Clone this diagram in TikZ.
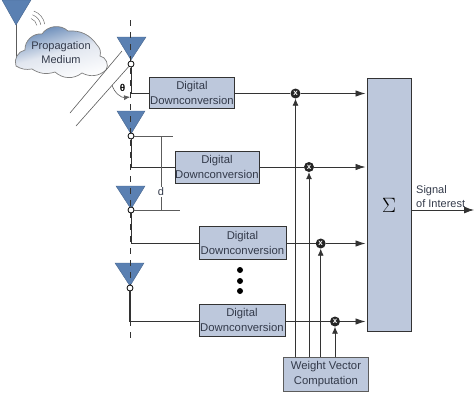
\documentclass[tikz,border=0pt]{standalone}
\usepackage{fontspec}
\setmainfont{Liberation Sans}
\usetikzlibrary{arrows.meta,calc}
\definecolor{boxfill}{HTML}{BDC8DC}
\definecolor{antblue}{HTML}{5A80B2}
\definecolor{txt}{HTML}{333A4A}
\definecolor{ln}{HTML}{333333}
\tikzset{
  ddcbox/.style={draw=ln,line width=0.9pt,fill=boxfill,text=txt,align=center,inner sep=0pt,font=\fontsize{11.3}{15}\selectfont,anchor=north west},
  mult/.style={circle,fill=black!85,text=white,inner sep=0pt,minimum size=10pt,font=\bfseries\fontsize{8}{8}\selectfont},
  port/.style={circle,draw=black,fill=white,line width=0.8pt,inner sep=0pt,minimum size=6pt},
  ant/.style={fill=antblue,draw=antblue!80!black,line width=0.4pt},
  wire/.style={draw=ln,line width=0.8pt},
  arr/.style={wire,-{Latex[length=10pt,width=6.5pt]},shorten >=1pt},
  arrup/.style={wire,-{Latex[length=7pt,width=6pt]}},
  thin wire/.style={draw=ln!80,line width=0.6pt},
  lab/.style={text=txt,font=\fontsize{11.2}{15}\selectfont,align=left}
}
\begin{document}
\begin{tikzpicture}[x=1pt,y=-1pt]
\useasboundingbox (0,0) rectangle (474,407);
% source antenna
\draw[thin wire] (16,24) -- (16,62);
\filldraw[ant] (2,0) -- (31,0) -- (16,25) -- cycle;
\foreach \r in {9,13,17}{\draw[draw=ln!70,line width=0.5pt] ($(28,27)+(-10:\r)$) arc[start angle=-10,end angle=-70,radius=\r];}
% cloud
\path[draw=gray,line width=0.7pt,left color=antblue,right color=white,middle color=boxfill!45!white,shading angle=15]
 (16,66) to[bend left=50] (25,50) to[bend left=50] (42,34) to[bend left=50] (68,31)
 to[bend left=30] (97,45) to[bend left=30] (100,56) to[bend left=60] (106,70)
 to[bend left=35] (82,73) to[bend left=40] (55,72) to[bend left=25] (32,69) to[bend left=20] (16,66) -- cycle;
\node[lab,align=center,text=txt,font=\fontsize{11}{14}\selectfont] (prop) at (61,53) {Propagation\\Medium};
% antennas
\filldraw[ant] (117,37) -- (146,37) -- (131,60) -- cycle;
\filldraw[ant] (117,111) -- (145,111) -- (131,134) -- cycle;
\filldraw[ant] (116,186) -- (145,186) -- (131,209) -- cycle;
\filldraw[ant] (115,263) -- (144,263) -- (130,286) -- cycle;
% dashed axis
\draw[draw=ln,line width=0.8pt,dash pattern=on 6pt off 6pt] (130.5,20) -- (130.5,342);
% ports
\node[port] (p1) at (131,64) {};
\node[port] (p2) at (131,136) {};
\node[port] (p3) at (131,210) {};
\node[port] (p4) at (130,288) {};
% boxes
\node[ddcbox,minimum width=85pt,minimum height=31pt] (b1) at (149,77) {Digital\\Downconversion};
\node[ddcbox,minimum width=84pt,minimum height=32pt] (b2) at (174.5,151) {Digital\\Downconversion};
\node[ddcbox,minimum width=87pt,minimum height=33pt] (b3) at (198.5,226) {Digital\\Downconversion};
\node[ddcbox,minimum width=86pt,minimum height=32pt] (b4) at (198.5,304) {Digital\\Downconversion};
\node[draw=ln,line width=1pt,fill=boxfill,minimum width=44pt,minimum height=253pt,inner sep=0pt,anchor=north west,font=\fontsize{20}{20}\selectfont] (sum) at (366.5,78) {\raisebox{-3pt}{$\Sigma$}};
\node[ddcbox,draw=ln!80,minimum width=85pt,minimum height=34pt] (w) at (283,357) {Weight Vector\\Computation};
% multipliers
\node[mult] (m1) at (295.5,93.5) {x};
\node[mult] (m2) at (309,167) {x};
\node[mult] (m3) at (320.7,243.5) {x};
\node[mult] (m4) at (335,321.5) {x};
% feeds from antenna to box
\draw[wire] (p1) |- (b1.west|-m1);
\draw[wire] (p2) |- (b2.west|-m2);
\draw[wire] (p3) |- (b3.west|-m3);
\draw[wire,line width=1.1pt] (p4) |- (b4.west|-m4);
% box to mult to sum
\draw[wire] (b1.east|-m1) -- (m1);
\draw[wire] (b2.east|-m2) -- (m2);
\draw[wire] (b3.east|-m3) -- (m3);
\draw[wire,line width=1.1pt] (b4.east|-m4) -- (m4);
\draw[arr] (m1) -- (m1-|sum.west);
\draw[arr] (m2) -- (m2-|sum.west);
\draw[arr] (m3) -- (m3-|sum.west);
\draw[arr] (m4) -- (m4-|sum.west);
% weights
\draw[arrup] (m1|-w.north) -- (m1);
\draw[arrup] (m2|-w.north) -- (m2);
\draw[arrup] (m3|-w.north) -- (m3);
\draw[arrup] (m4|-w.north) -- (m4);
% output
\coordinate (out) at (474,210);
\draw[wire,-{Latex[length=10pt,width=7pt]}] (sum.east|-out) -- (out);
\node[lab,anchor=south west,inner sep=0pt,font=\fontsize{11}{14.5}\selectfont] (soi) at (416,208) {Signal\\of Interest};
% wavefront
\draw[thin wire] (122,51) -- (70,113);
\draw[thin wire] (p1) -- (76,126);
% theta
\draw[thin wire,-{Latex[length=6pt,width=5pt]}] (112,85) to[bend right=40] (130,97);
\node[inner sep=0pt,text=black,font=\bfseries\fontsize{10}{10}\selectfont] (th) at (122.5,88) {θ};
% d
\coordinate (t1) at (173,136);
\coordinate (t2) at (180,210);
\draw[thin wire] (p2) -- (t1);
\draw[thin wire] (p3) -- (t2);
\node[text=txt,inner sep=1pt,font=\fontsize{11}{11}\selectfont] (d) at (161,192) {d};
\draw[thin wire] (161,136) -- (d);
\draw[thin wire] (d) -- (161,210);
% ellipsis dots
\foreach \y in {270,281,291}{\fill[black] (240,\y) circle (3pt);}
\end{tikzpicture}
\end{document}
